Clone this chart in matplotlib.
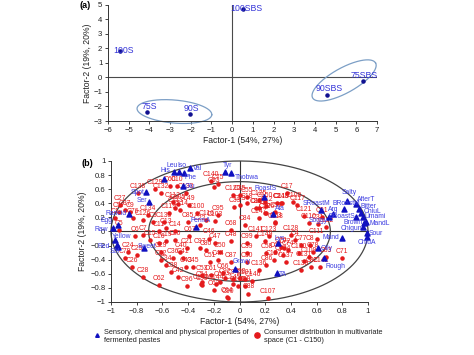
import numpy as np
import matplotlib
matplotlib.use("Agg")
import matplotlib.pyplot as plt
from matplotlib.lines import Line2D
from matplotlib.ticker import FuncFormatter

plt.rcParams['font.family'] = ['Liberation Sans', 'DejaVu Sans']

# ---------------- Data: panel (a) ----------------
a_names = ["100SBS", "100S", "75SBS", "90SBS", "75S", "90S"]
a_x = [0.5, -5.4, 6.3, 4.6, -4.1, -2.05]
a_y = [4.7, 1.8, -0.25, -1.2, -2.35, -2.5]

# ---------------- Data: panel (b) blue attributes ----------------
b_names = ["Leu", "Iso", "Val", "Phe", "His", "Glu", "Tyr", "Thobwa", "Spot", "Ser",
           "Rancid", "Egg", "Raw", "Yellow", "Red", "Sof", "Sweet", "FermA", "Gravy",
           "RoastS", "Ala", "SRoastM", "Arg", "BRoastM", "Salty", "AfterT", "Bitter",
           "ChiuL", "Umami", "BRoastS", "MandL", "Brown", "Chigun", "Sour", "ChiuA",
           "Mand", "Oily", "Rough", "TA", "Lys", "Soggy"]
b_x = [-0.507, -0.468, -0.385, -0.430, -0.585, -0.442, -0.113, -0.068, -0.728, -0.702,
       -0.862, -0.948, -0.982, -0.969, -0.956, -0.946, -0.741, -0.339, -0.035,
       0.193, 0.263, 0.634, 0.725, 0.816, 0.834, 0.907, 0.928,
       0.946, 0.963, 0.907, 0.982, 0.971, 0.963, 0.990, 0.990,
       0.795, 0.613, 0.658, 0.294, 0.302, 0.699]
b_y = [0.848, 0.848, 0.896, 0.826, 0.740, 0.645, 0.840, 0.826, 0.556, 0.418,
       0.248, 0.092, 0.045, -0.121, -0.191, -0.220, -0.238, 0.060, -0.532,
       0.494, 0.248, 0.305, 0.248, 0.315, 0.433, 0.390, 0.315,
       0.258, 0.210, 0.206, 0.139, 0.116, 0.060, -0.026, -0.082,
       -0.088, -0.238, -0.380, -0.593, -0.167, 0.206]

# ---------------- Data: panel (b) red consumers ----------------
red_names = ["C140", "C93", "C75", "C60", "C10", "C129", "C132", "C138", "C133", "C112",
             "C105", "C113", "C27", "C37", "C57", "C49", "C119", "C114", "C100", "C103",
             "C95", "C116", "C1", "C76", "C126", "C3", "C135", "C85", "C22", "C9",
             "C134", "C35", "C120", "C55", "C33", "C23", "C18", "C125", "C81", "C12",
             "C52", "C59", "C148", "C108", "C84", "C73", "C147", "C110", "C31", "C91",
             "C2", "C17", "C5", "C6", "C7", "C11", "C13", "C14", "C15", "C16",
             "C19", "C20", "C21", "C24", "C25", "C79", "C26", "C28", "C62", "C29",
             "C32", "C34", "C36", "C38", "C42", "C40", "C41", "C43", "C45", "C97",
             "C80", "C46", "C47", "C50", "C44", "C51", "C96", "C53", "C54", "C56",
             "C61", "C63", "C64", "C65", "C66", "C67", "C48", "C68", "C99", "C39",
             "C149", "C58", "C69", "C70", "C72", "C74", "C124", "C4", "C77", "C8",
             "C78", "C109", "C82", "C83", "C71", "C86", "C30", "C87", "C89", "C88",
             "C107", "C90", "C92", "C94", "C98", "C101", "C102", "C150", "C104", "C106",
             "C115", "C117", "C118", "C121", "C122", "C123", "C127", "C128", "C130", "C111",
             "C131", "C136", "C137", "C139", "C142", "C141", "C143", "C144", "C145", "C146"]
red_x = [-0.22, -0.20, -0.17, -0.54, -0.49, -0.66, -0.61, -0.79, -0.42, -0.52,
         -0.48, -0.50, -0.93, -0.89, -0.94, -0.39, -0.55, -0.46, -0.33, -0.19,
         -0.17, -0.26, -0.97, -0.83, -0.75, -0.67, -0.59, -0.40, -0.31, -0.85,
         -0.71, 0.00, -0.05, 0.06, -0.04, 0.00, 0.06, 0.15, 0.13, 0.21,
         0.20, 0.28, 0.32, 0.42, 0.04, 0.28, 0.15, 0.54, 0.61, 0.64,
         0.29, 0.37, -0.94, -0.81, -0.75, -0.63, -0.57, -0.50, -0.70, -0.63,
         -0.57, -0.50, -0.41, -0.87, -0.80, -0.89, -0.84, -0.75, -0.63, -0.61,
         -0.61, -0.57, -0.52, -0.53, -0.48, -0.46, -0.44, -0.42, -0.36, -0.31,
         -0.26, -0.24, -0.19, -0.15, -0.17, -0.23, -0.41, -0.29, -0.29, -0.29,
         -0.22, -0.20, -0.10, -0.15, -0.13, -0.39, -0.07, -0.07, 0.06, 0.06,
         0.20, 0.21, 0.28, 0.32, 0.35, 0.38, 0.34, 0.43, 0.48, 0.55,
         0.57, 0.54, 0.56, 0.67, 0.80, 0.21, 0.06, -0.07, 0.04, 0.07,
         0.22, -0.09, -0.11, -0.05, 0.00, 0.04, -0.01, 0.20, 0.15, 0.21,
         0.33, 0.45, 0.28, 0.50, 0.67, 0.23, 0.27, 0.40, 0.46, 0.60,
         0.50, 0.15, 0.36, 0.48, 0.63, 0.13, -0.30, -0.18, -0.05, 0.10]
red_y = [0.72, 0.63, 0.67, 0.65, 0.65, 0.60, 0.54, 0.54, 0.54, 0.42,
         0.39, 0.34, 0.38, 0.31, 0.28, 0.38, 0.26, 0.31, 0.26, 0.15,
         0.23, 0.16, 0.19, 0.19, 0.16, 0.14, 0.14, 0.14, 0.09, 0.28,
         0.23, 0.52, 0.52, 0.49, 0.35, 0.38, 0.41, 0.45, 0.33, 0.36,
         0.26, 0.28, 0.40, 0.42, 0.09, 0.14, 0.19, 0.12, 0.11, 0.20,
         0.41, 0.55, 0.02, -0.07, -0.05, 0.00, 0.05, 0.00, -0.12, -0.17,
         -0.14, -0.12, -0.24, -0.29, -0.33, -0.38, -0.50, -0.64, -0.76, -0.29,
         -0.40, -0.48, -0.38, -0.57, -0.64, -0.29, -0.38, -0.50, -0.50, -0.24,
         -0.26, -0.10, -0.17, -0.29, -0.40, -0.43, -0.78, -0.62, -0.71, -0.76,
         -0.62, -0.83, -0.93, -0.71, -0.59, -0.07, -0.14, 0.02, -0.17, -0.31,
         -0.14, -0.31, -0.29, -0.22, -0.24, -0.26, -0.33, -0.12, -0.19, -0.19,
         -0.29, -0.36, -0.50, -0.36, -0.38, -0.48, -0.43, -0.43, -0.78, -0.88,
         -0.95, -0.95, -0.66, -0.68, -0.66, -0.68, -0.78, 0.42, 0.33, 0.26,
         0.40, 0.38, 0.12, 0.22, 0.06, -0.06, -0.40, -0.05, -0.30, -0.10,
         -0.42, -0.55, -0.43, -0.55, -0.50, -0.07, -0.74, -0.75, -0.75, -0.70]

# label offsets (points) for panel (a) names
a_off = {"100SBS": (3, 0.5), "100S": (2.2, 0.7), "75SBS": (1.5, 3.8),
         "90SBS": (1.5, 4.2), "75S": (1.5, 3.8), "90S": (1.5, 3.8)}

# label offsets for blue attribute names (points, ha)
b_off = {"Leu": (-1.7, 4.8, "center"), "Iso": (2, 4.8, "center"), "Val": (2, 0, "left"),
         "Phe": (0, -3.4, "left"), "His": (0.5, 6.2, "center"), "Glu": (1.7, 0, "left"),
         "Tyr": (1.5, 5.2, "center"), "Thobwa": (3, -3.4, "left"), "Spot": (-1, 0, "right"),
         "Ser": (-1.6, 1.4, "right"), "Rancid": (-1.2, 0.7, "right"), "Egg": (-3.4, 3.6, "right"),
         "Raw": (-3.8, -1.2, "right"), "Yellow": (-2, 2.4, "left"), "Red": (-4.8, -1.2, "right"),
         "Sof": (-5.8, -3.4, "left"), "Sweet": (2, 1.2, "center"), "FermA": (3.6, 5.2, "center"),
         "Gravy": (4.8, 5.2, "center"), "RoastS": (1.2, 6, "center"), "Ala": (1.2, 4.3, "left"),
         "SRoastM": (-3.2, 5, "center"), "Arg": (0.5, 3, "center"), "BRoastM": (1.2, 4.2, "center"),
         "Salty": (2, 5.8, "center"), "AfterT": (0.5, 2.9, "left"), "Bitter": (1.6, 1.9, "left"),
         "ChiuL": (2, 1.6, "left"), "Umami": (1.2, 0, "left"), "BRoastS": (-1, 0, "right"),
         "MandL": (3, -1.2, "left"), "Brown": (-1, 0.4, "right"), "Chigun": (-0.5, -0.7, "right"),
         "Sour": (1.6, 0, "left"), "ChiuA": (0, -3.4, "center"), "Mand": (-2, 0, "right"),
         "Oily": (2, 0, "left"), "Rough": (0.7, -6, "left"), "TA": (1.2, -1.2, "left"),
         "Lys": (1.2, 3.6, "center"), "Soggy": (-1, -2.7, "right")}

W, H, DPI = 4.74, 3.55, 100
fig = plt.figure(figsize=(W, H), dpi=DPI)
fig.patch.set_facecolor("white")

BLUE_MK = "#1010c0"
BLUE_TX = "#3b3be0"
RED = "#e41a1c"
LINE = "#4a4a4a"
FS_TICK = 5.6

def style_axes(ax):
    for s in ["top", "right"]:
        ax.spines[s].set_visible(False)
    for s in ["left", "bottom"]:
        ax.spines[s].set_color("#333333")
        ax.spines[s].set_linewidth(0.7)
    ax.tick_params(direction="out", length=2.5, width=0.6, labelsize=FS_TICK,
                   colors="#222222", pad=1.5)

def pix_ellipse(ax, cx, cy, a_px, b_px, ang, **kw):
    pos = ax.get_position()
    x0, x1 = ax.get_xlim()
    y0, y1 = ax.get_ylim()
    sx = pos.width * W * DPI / (x1 - x0)
    sy = pos.height * H * DPI / (y1 - y0)
    t = np.linspace(0, 2 * np.pi, 300)
    th = np.deg2rad(ang)
    dxp = a_px * np.cos(th) * np.cos(t) - b_px * np.sin(th) * np.sin(t)
    dyp = a_px * np.sin(th) * np.cos(t) + b_px * np.cos(th) * np.sin(t)
    ax.plot(cx + dxp / sx, cy + dyp / sy, clip_on=False, **kw)

# ---------------- Panel (a) ----------------
axa = fig.add_axes([108 / 474, 1 - 121 / 355, (377 - 108) / 474, (121 - 4.7) / 355])
style_axes(axa)
axa.set_xlim(-6, 7)
axa.set_ylim(-3, 5)
axa.set_xticks(range(-6, 8))
axa.set_yticks(range(-3, 6))
axa.axhline(0, color=LINE, lw=0.8, zorder=1)
axa.axvline(0, color=LINE, lw=0.8, zorder=1)
axa.scatter(a_x, a_y, s=5, color="#101090", zorder=3, clip_on=False)
for n, x, y in zip(a_names, a_x, a_y):
    dx, dy = a_off[n]
    axa.annotate(n, (x, y), xytext=(dx, dy), textcoords="offset points",
                 ha="center", va="center", fontsize=6.3, color="#3434d8", zorder=4,
                 annotation_clip=False)
pix_ellipse(axa, -2.79, -2.35, 37.5, 11.5, -5, color="#7c9fc6", lw=0.9)
pix_ellipse(axa, 5.41, -0.21, 36, 12.5, 29, color="#7c9fc6", lw=0.9)
axa.set_xlabel("Factor-1 (54%, 27%)", fontsize=6.2, labelpad=2, color="#222222")
axa.set_ylabel("Factor-2 (19%, 20%)", fontsize=6.2, labelpad=1, color="#222222")
fig.text(79 / 474, 1 - 6 / 355, "(a)", fontsize=6.5, fontweight="bold", va="center")

# ---------------- Panel (b) ----------------
axb = fig.add_axes([111 / 474, 1 - 302 / 355, (368 - 111) / 474, (302 - 161) / 355])
style_axes(axb)
axb.set_xlim(-1, 1)
axb.set_ylim(-1, 1)
ticks = np.round(np.arange(-1, 1.01, 0.2), 1)
axb.set_xticks(ticks)
axb.set_yticks(ticks)
fmt = FuncFormatter(lambda v, p: ("%g" % round(v, 1)).replace("-", "\u2212") if abs(v) > 1e-9 else "0")
axb.xaxis.set_major_formatter(fmt)
axb.yaxis.set_major_formatter(fmt)
axb.axhline(0, color="#333333", lw=0.8, zorder=1)
axb.axvline(0, color="#333333", lw=0.8, zorder=1)
t = np.linspace(0, 2 * np.pi, 400)
for r in (1.0, np.sqrt(0.5)):
    axb.plot(r * np.cos(t), r * np.sin(t), color="#444444", lw=0.9, zorder=1, clip_on=False)

axb.scatter(red_x, red_y, s=5, color=RED, zorder=3, clip_on=False)
for n, x, y in zip(red_names, red_x, red_y):
    axb.annotate(n, (x, y), xytext=(0, 2.2), textcoords="offset points",
                 ha="center", va="bottom", fontsize=4.9, color=RED, zorder=4,
                 annotation_clip=False)
axb.scatter(b_x, b_y, s=13, marker="^", color=BLUE_MK, zorder=5, clip_on=False)
for n, x, y in zip(b_names, b_x, b_y):
    dx, dy, ha = b_off[n]
    axb.annotate(n, (x, y), xytext=(dx, dy), textcoords="offset points",
                 ha=ha, va="center", fontsize=4.9, color=BLUE_TX, zorder=6,
                 annotation_clip=False)
axb.set_xlabel("Factor-1 (54%, 27%)", fontsize=6.2, labelpad=2, color="#222222")
axb.set_ylabel("Factor-2 (19%, 20%)", fontsize=6.2, labelpad=2, color="#222222")
fig.text(81 / 474, 1 - 163 / 355, "(b)", fontsize=6.5, fontweight="bold", va="center")

# ---------------- Legend ----------------
fig.add_artist(Line2D([97 / 474], [1 - 335 / 355], marker="^", markersize=2.6,
                      color=BLUE_MK, linestyle="none", transform=fig.transFigure))
fig.text(104 / 474, 1 - 329 / 355,
         "Sensory, chemical and physical properties of\nfermented pastes",
         fontsize=5.3, va="top", ha="left", color="#222222", linespacing=1.25)
fig.add_artist(Line2D([257 / 474], [1 - 335 / 355], marker="o", markersize=3.8,
                      color=RED, linestyle="none", transform=fig.transFigure))
fig.text(264 / 474, 1 - 329 / 355,
         "Consumer distribution in multivariate\nspace (C1 - C150)",
         fontsize=5.3, va="top", ha="left", color="#222222", linespacing=1.25)

fig.savefig("out.png", dpi=DPI, facecolor="white")
